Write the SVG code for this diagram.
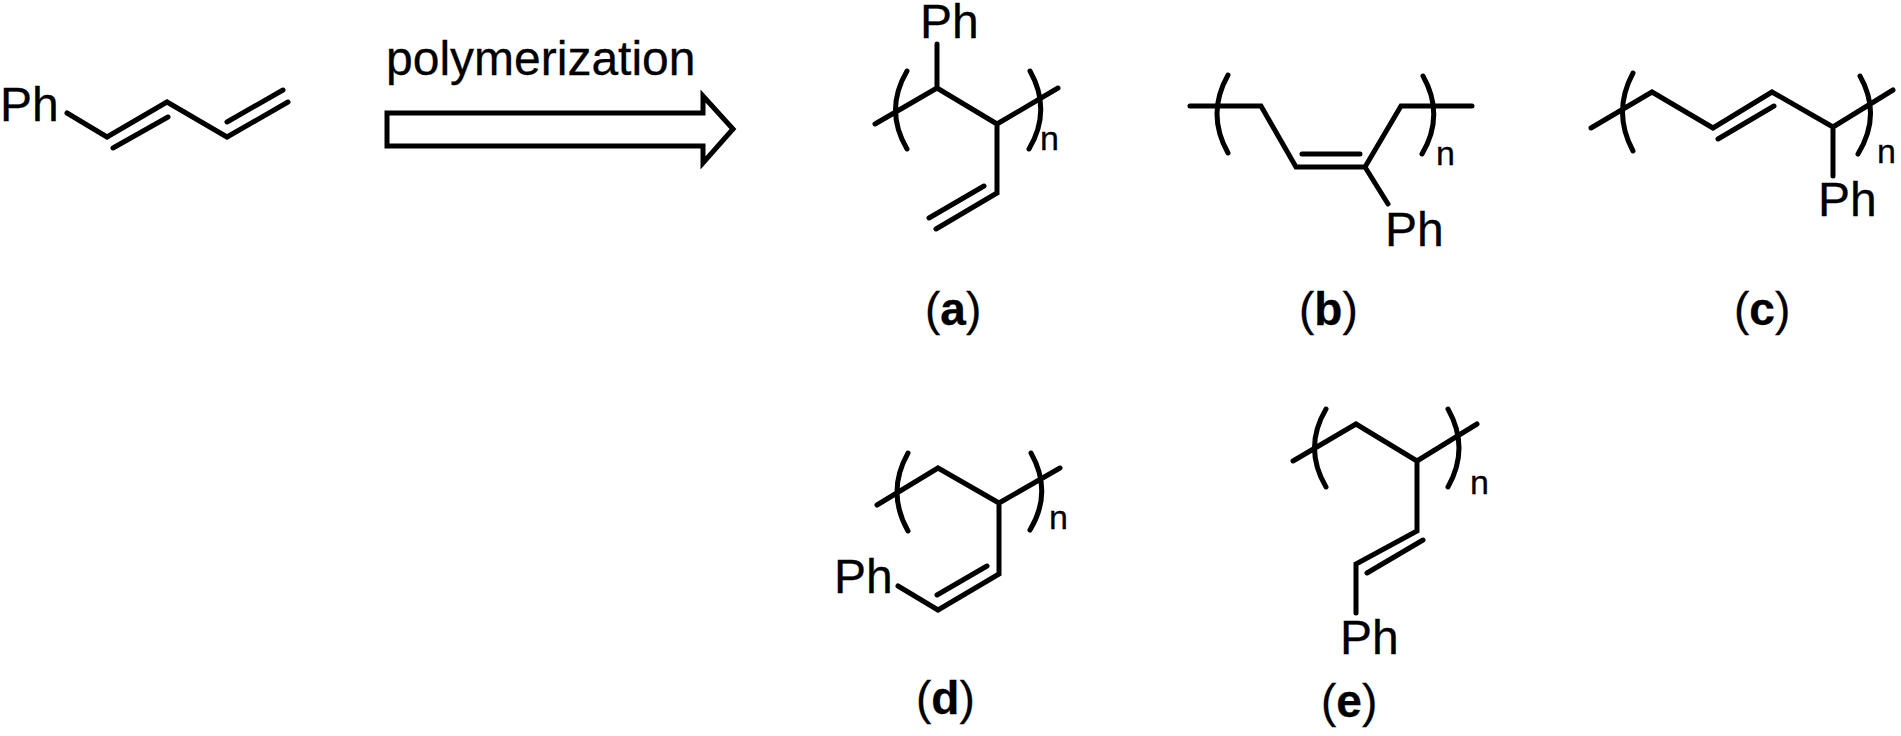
<svg xmlns="http://www.w3.org/2000/svg" width="1901" height="736" viewBox="0 0 1901 736">
<style>
.b{fill:none;stroke:#000;stroke-width:5;stroke-linecap:round;stroke-linejoin:miter}
text{font-family:"Liberation Sans",Arial,sans-serif;fill:#000;stroke:#000;stroke-width:.3}
.p{font-size:48px}.n{font-size:34px}.l{font-size:46px}.l tspan{font-weight:bold}
</style>
<rect width="1901" height="736" fill="#fff"/>
<g id="monomer"><text class="p" x="0" y="121">Ph</text><text style="font-size:48px" x="386" y="75">polymerization</text>
<path class="b" d="M67 113L107 137L167 102L227 137L288 102M113 148L168 117M227 122L283 90"/></g>
<g id="arrow"><path class="b" d="M387 113H703V96L733 129L703 163V146H387Z"/></g>
<g id="a"><text class="p" x="920" y="38">Ph</text><text class="n" x="1040" y="150">n</text><text class="l" x="925" y="325">(<tspan>a</tspan>)</text>
<path class="b" d="M875 124L937 88L997 124L1058 88M937 44V88M997 124V193L936 229M984 186L929 218M907 71Q884 110 907 149M1030 71Q1052 110 1029 149"/></g>
<g id="b"><text class="p" x="1385" y="246">Ph</text><text class="n" x="1436" y="165">n</text><text class="l" x="1299" y="325">(<tspan>b</tspan>)</text>
<path class="b" d="M1190 106H1261L1296 167H1365L1401 106H1472M1302 154H1360M1365 167L1388 204M1228 75Q1206 114 1228 153M1423 76Q1445 115 1422 154"/></g>
<g id="c"><text class="p" x="1818" y="216">Ph</text><text class="n" x="1877" y="163">n</text><text class="l" x="1734" y="325">(<tspan>c</tspan>)</text>
<path class="b" d="M1591 128L1652 92L1713 128L1772 92L1833 127L1893 90M1718 139L1774 106M1833 127V176M1633 73Q1612 112 1633 151M1860 76Q1882 115 1858 154"/></g>
<g id="d"><text class="p" x="834" y="593">Ph</text><text class="n" x="1049" y="529">n</text><text class="l" x="916" y="714">(<tspan>d</tspan>)</text>
<path class="b" d="M877 505L938 468L999 503L1060 468M999 503V574L938 610L898 586M987 566L937 595M908 453Q886 492 908 531M1031 453Q1053 492 1030 530"/></g>
<g id="e"><text class="p" x="1340" y="654">Ph</text><text class="n" x="1470" y="494">n</text><text class="l" x="1321" y="717">(<tspan>e</tspan>)</text>
<path class="b" d="M1293 461L1356 424L1417 461L1477 424M1417 461V531L1356 564V613M1423 540L1367 573M1326 409Q1303 448 1326 487M1448 409Q1470 448 1448 487"/></g>
</svg>
